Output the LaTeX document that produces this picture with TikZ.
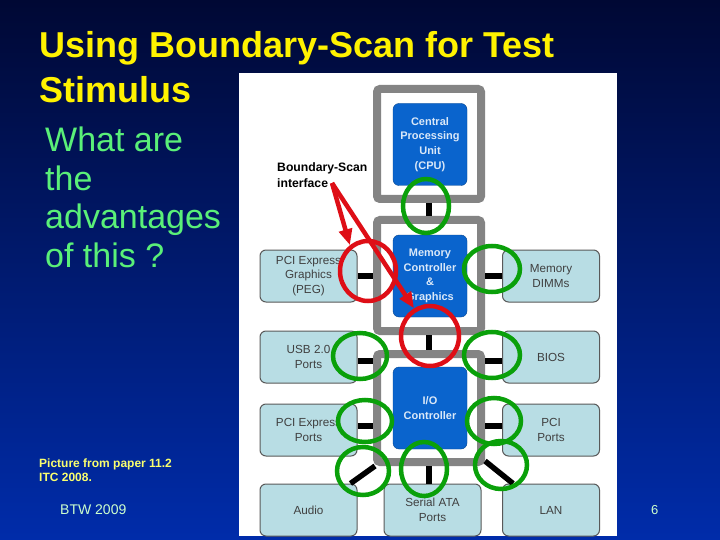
\documentclass[tikz,border=0pt]{standalone}
\usepackage{fontspec}
\setmainfont{Liberation Sans}
\usetikzlibrary{shapes.geometric,arrows.meta}
\definecolor{bgtop}{RGB}{0,8,52}
\definecolor{bgbot}{RGB}{0,44,170}
\definecolor{chipblue}{RGB}{10,100,205}
\definecolor{portblue}{RGB}{184,221,228}
\definecolor{framegray}{RGB}{132,132,132}
\definecolor{ringgreen}{RGB}{10,160,10}
\definecolor{ringred}{RGB}{222,14,22}
\definecolor{qgreen}{RGB}{90,240,120}
\definecolor{footgreen}{RGB}{205,255,205}
\definecolor{noteyellow}{RGB}{250,255,110}
\tikzset{
  chip/.style={fill=chipblue,draw=chipblue!70!black,rounded corners=6pt,minimum width=74pt,minimum height=82pt,inner sep=0pt,
    text=white!85!chipblue,align=center,font=\fontsize{11}{14.7}\selectfont\bfseries},
  frame/.style={draw=framegray,line width=8pt,rounded corners=3pt,minimum width=104pt,inner sep=0pt},
  port/.style={fill=portblue,draw=black!65,line width=1pt,rounded corners=6pt,minimum width=97pt,minimum height=52pt,inner sep=0pt,
    text=black!75,align=center,font=\fontsize{11.7}{14.7}\selectfont},
  ring/.style={ellipse,draw=ringgreen,line width=4.5pt,inner sep=0pt},
  hotring/.style={ring,draw=ringred},
  bus/.style={line width=5.5pt,black}
}
\begin{document}
\begin{tikzpicture}[x=1pt,y=-1pt]
  \useasboundingbox (0,0) rectangle (720,540);
  \shade[top color=bgtop,bottom color=bgbot] (0,0) rectangle (720,540);
  \fill[white] (239,73) rectangle (617,536);
  % frames and chips
  \draw
    (429,144) node[frame,minimum height=110pt] (cpuframe){}
    (429,275.5) node[frame,minimum height=111pt] (mchframe){}
    (429,408) node[frame,minimum height=108pt] (ioframe){}
    (430,144.5) node[chip] (cpu){Central\\Processing\\Unit\\(CPU)}
    (430,276) node[chip] (mch){Memory\\Controller\\\&\\Graphics}
    (430,408) node[chip] (io){I/O\\Controller};
  % ports
  \draw
    (308.5,276) node[port] (peg){PCI Express\\Graphics\\(PEG)}
    (308.5,357) node[port] (usb){USB 2.0\\Ports}
    (308.5,430) node[port] (pcie){PCI Express\\Ports}
    (308.5,510) node[port] (audio){Audio}
    (551,276) node[port] (dimm){Memory\\DIMMs}
    (551,357) node[port] (bios){BIOS}
    (551,430) node[port] (pci){PCI\\Ports}
    (551,510) node[port] (lan){LAN}
    (432.5,510) node[port] (sata){Serial ATA\\Ports};
  \begin{scope}[bus]
    \draw (cpuframe.south) -- (mchframe.north);
    \draw (mchframe.south) -- (ioframe.north);
    \draw (ioframe.south) -- (ioframe.south |- sata.north);
    \draw (peg.east) -- (peg.east -| mchframe.west);
    \draw (dimm.west) -- (dimm.west -| mchframe.east);
    \draw ([yshift=-4pt]usb.east) -- ([yshift=-4pt]usb.east -| ioframe.west);
    \draw ([yshift=-4pt]bios.west) -- ([yshift=-4pt]bios.west -| ioframe.east);
    \draw ([yshift=4pt]pcie.east) -- ([yshift=4pt]pcie.east -| ioframe.west);
    \draw ([yshift=4pt]pci.west) -- ([yshift=4pt]pci.west -| ioframe.east);
    \draw ([xshift=2pt]ioframe.south west) -- ([xshift=-7pt]audio.north east);
    \draw ([yshift=5pt]ioframe.south east) -- ([xshift=11pt]lan.north west);
  \end{scope}
  % rings
  \draw
    (426,206) node[ring,minimum width=46pt,minimum height=54pt] (cpuring){}
    (492,269) node[ring,minimum width=56pt,minimum height=46pt] (dimmring){}
    (360,356) node[ring,minimum width=54pt,minimum height=46pt] (usbring){}
    (492,355) node[ring,minimum width=56pt,minimum height=46pt] (biosring){}
    (365,421) node[ring,minimum width=54pt,minimum height=42pt] (pciering){}
    (494,421) node[ring,minimum width=54pt,minimum height=46pt] (pciring){}
    (363,471) node[ring,minimum width=52pt,minimum height=48pt] (audioring){}
    (424,469) node[ring,minimum width=46pt,minimum height=54pt] (sataring){}
    (501,465) node[ring,minimum width=52pt,minimum height=48pt] (lanring){}
    (368,271) node[hotring,minimum width=56pt,minimum height=60pt] (pegring){}
    (430,336) node[hotring,minimum width=58pt,minimum height=60pt] (mchring){};
  % texts
  \node[anchor=north west,inner sep=0pt,align=left,yellow,font=\fontsize{36}{45}\selectfont\bfseries] (title) at (39,31) {Using Boundary-Scan for Test\\Stimulus};
  \node[anchor=north west,inner sep=0pt,align=left,qgreen,font=\fontsize{34}{38.5}\selectfont] (question) at (45,127) {What are\\the\\advantages\\of this ?};
  \node[anchor=north west,inner sep=0pt,align=left,black,font=\fontsize{12.2}{16}\selectfont\bfseries] (scan) at (277,162) {Boundary-Scan\\interface};
  \node[anchor=north west,inner sep=0pt,align=left,noteyellow,font=\fontsize{12}{14}\selectfont\bfseries] (source) at (39,459) {Picture from paper 11.2\\ITC 2008.};
  \node[anchor=west,inner sep=0pt,footgreen,font=\fontsize{14}{16}\selectfont] (event) at (60,510) {BTW 2009};
  \node[anchor=west,inner sep=0pt,footgreen,font=\fontsize{13}{15}\selectfont] (page) at (651,510) {6};
  \coordinate (scanfoot) at (332,183);
  \begin{scope}[ringred,line width=4.5pt,-{Triangle[length=16pt,width=13pt]}]
    \draw (scanfoot) -- (pegring.125);
    \draw (scanfoot) -- (mchring.120);
  \end{scope}
\end{tikzpicture}
\end{document}
